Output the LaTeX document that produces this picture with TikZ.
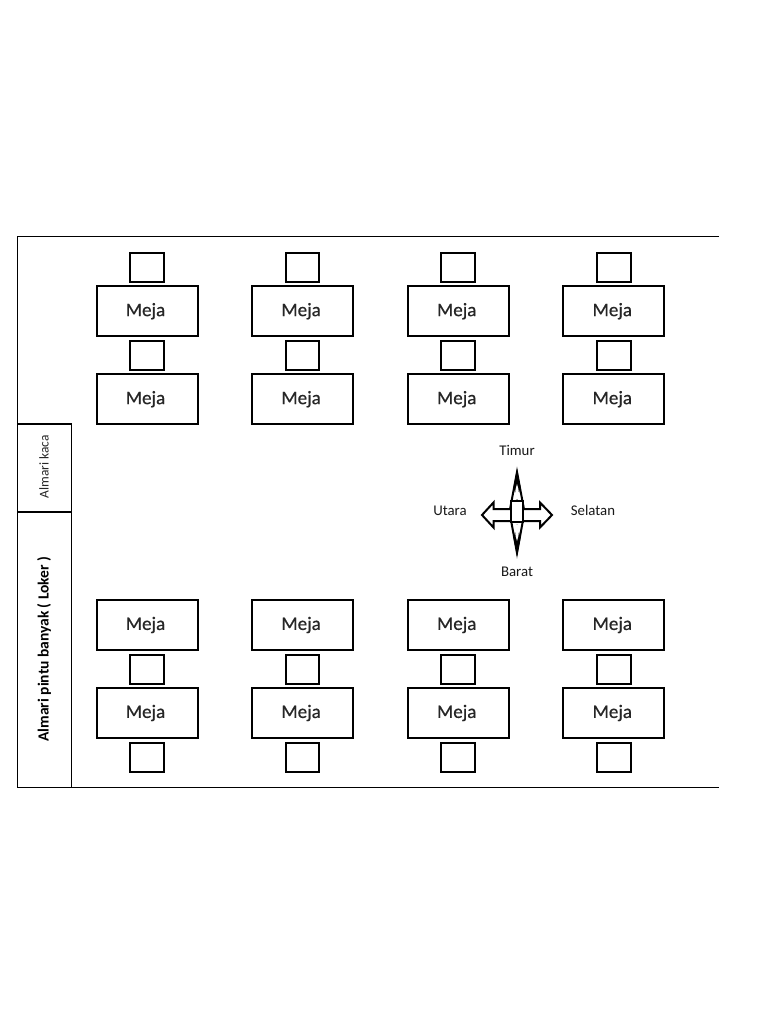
\documentclass[tikz,border=0pt]{standalone}
\usepackage{fontspec}
\setmainfont{Carlito}
\newfontfamily\heavy[FakeBold=0.6]{Carlito}
\begin{document}
\begin{tikzpicture}[x=1pt,y=-1pt,
  inkblack/.style={draw=black,line width=2pt},
  meja/.style={inkblack,fill=white,minimum width=101pt,minimum height=50pt,inner sep=0pt,font=\heavy\fontsize{19}{20}\selectfont,text=black!85},
  kursi/.style={inkblack,fill=white,minimum width=33.5pt,minimum height=29pt,inner sep=0pt},
  wall/.style={draw=black,line width=1.1pt},
  arah/.style={inner sep=0pt,text height=9pt,text depth=0pt,font=\fontsize{14.8}{16}\selectfont,text=black!90}]
\useasboundingbox (0,0) rectangle (768,1024);
\fill[white] (0,0) rectangle (768,1024);
% room walls
\coordinate (tr) at (719,236.5);
\coordinate (tl) at (17.5,236.5);
\coordinate (bl) at (17.5,787.5);
\coordinate (br) at (719,787.5);
\draw[wall] (tr) -- (tl) -- (bl) -- (br);
% cupboards
\draw[wall] (71.5,787.5) -- (71.5,424);
\draw[draw=black,line width=1.7pt] (17.5,424) -- (71.5,424);
\draw[draw=black,line width=1.9pt] (17.5,512) -- (71.5,512);
\node[rotate=90,inner sep=0pt,font=\fontsize{13.4}{15}\selectfont,text=black!85] (kaca) at (44,467) {Almari kaca};
\node[rotate=90,inner sep=0pt,font=\fontsize{15.5}{17}\bfseries\selectfont] (loker) at (44,649) {Almari pintu banyak ( Loker )};
% tables and chairs
\foreach \i/\x in {1/147,2/302.6,3/458.2,4/613.8}{
  \node[kursi] (ka\i) at (\x,267.5) {};
  \node[meja]  (ma\i) at (\x,311.2) {\hspace{-3pt}\raisebox{3pt}{Meja}};
  \node[kursi] (kb\i) at (\x,355.5) {};
  \node[meja]  (mb\i) at (\x,399.2) {\hspace{-3pt}\raisebox{3pt}{Meja}};
  \node[meja]  (mc\i) at (\x,625) {\hspace{-3pt}\raisebox{3pt}{Meja}};
  \node[kursi] (kc\i) at (\x,669) {};
  \node[meja]  (md\i) at (\x,713) {\hspace{-3pt}\raisebox{3pt}{Meja}};
  \node[kursi] (kd\i) at (\x,757) {};
}
% compass
\draw[black,line width=2pt,fill=white,line join=miter,miter limit=20] (517,472) -- (524.5,512) -- (517,553) -- (509.5,512) -- cycle;
\fill[black] (517,469) -- (520.5,487) -- (517,501) -- (513.5,487) -- cycle;
\fill[black] (517,556) -- (520.5,538) -- (517,524) -- (513.5,538) -- cycle;
\fill[white] (515.6,489) -- (517,484) -- (518.4,489) -- (519.5,499) -- (514.5,499) -- cycle;
\fill[white] (515.6,536) -- (517,541) -- (518.4,536) -- (519.5,525) -- (514.5,525) -- cycle;
\draw[black,line width=2pt,fill=white,line join=miter]
  (511,509) -- (493.5,509) -- (493.5,502.5) -- (482,515) -- (493.5,527.5) -- (493.5,521) -- (511,521);
\draw[black,line width=2pt,fill=white,line join=miter]
  (523,509) -- (540,509) -- (540,502.5) -- (552,515) -- (540,527.5) -- (540,521) -- (523,521);
\node[draw=black,line width=2pt,fill=white,minimum width=12.5pt,minimum height=21pt,inner sep=0pt] (pusat) at (517,511.5) {};
\node[arah] (timur) at (517,450.5) {Timur};
\node[arah] (barat) at (517,571.5) {Barat};
\node[arah] (utara) at (450,510.5) {Utara};
\node[arah] (selatan) at (593,510.5) {Selatan};
\end{tikzpicture}
\end{document}
